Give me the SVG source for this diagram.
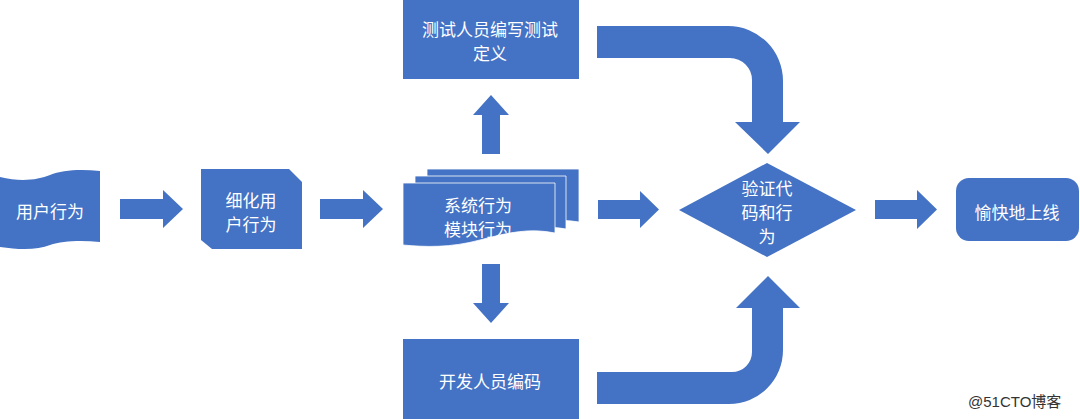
<svg xmlns="http://www.w3.org/2000/svg" width="1080" height="419" viewBox="0 0 1080 419">
<style>
.s{fill:#4472C4}
.l{fill:#4472C4;stroke:#ffffff;stroke-width:0.8}
.t{fill:#ffffff;font-family:"Noto Sans CJK SC","Noto Sans",sans-serif;font-size:17px;text-anchor:middle;dominant-baseline:central}
.w{fill:#333333;font-family:"Liberation Sans","Noto Sans CJK SC",sans-serif;font-size:15px}
</style>
<rect width="1080" height="419" fill="#ffffff"/>
<g id="connectors">
<path class="s" d="M120,199 L163,199 L163,190 L183,209 L163,228 L163,219 L120,219 Z"/>
<path class="s" d="M320,199 L363,199 L363,190 L383,209 L363,228 L363,219 L320,219 Z"/>
<path class="s" d="M598,200 L640,200 L640,191 L659,209.5 L640,228 L640,219 L598,219 Z"/>
<path class="s" d="M875,200 L917,200 L917,190 L937,209.5 L917,229 L917,219 L875,219 Z"/>
<path class="s" d="M482,154 L482,115 L473,115 L491,95 L509,115 L500,115 L500,154 Z"/>
<path class="s" d="M482,264 L500,264 L500,303 L509,303 L491,323 L473,303 L482,303 Z"/>
<path class="s" d="M597,26 L728,26 A55,55 0 0 1 783,81 L783,122 L800,122 L768,154 L735,122 L752,122 L752,80 A22,22 0 0 0 730,58 L597,58 Z"/>
<path class="s" d="M597,372 L732,372 A20,20 0 0 0 752,352 L752,308 L736,308 L768,276 L800,308 L783,308 L783,350 A54,54 0 0 1 729,404 L597,404 Z"/>
</g>
<g id="n1">
<path class="s" d="M0,177 C20,182 38,180 50,175 C62,170 80,169 100,171 L100,242 C80,240 62,241 50,245 C38,250 20,250 0,247 Z"/>
<text class="t" x="50" y="210">用户行为</text>
</g>
<g id="n2">
<path class="s" d="M201,169 L289,169 L302,182 L302,249 L212,249 L201,240 Z"/>
<text class="t" x="251" y="199">细化用</text>
<text class="t" x="251" y="223">户行为</text>
</g>
<g id="n3">
<path class="l" d="M427,169 L579,169 L579,222 C560,219 545,221 527,225 L427,225 Z"/>
<path class="l" d="M415,176 L566,176 L566,229 C550,226 535,228 515,232 L415,232 Z"/>
<path class="l" d="M403,183 L555,183 L555,233 C530,228 510,232 480,240 C450,248 425,247 403,245 Z"/>
<text class="t" x="478" y="204">系统行为</text>
<text class="t" x="478" y="228">模块行为</text>
</g>
<g id="n4">
<rect class="s" x="403" y="0" width="176" height="79"/>
<text class="t" x="490" y="28">测试人员编写测试</text>
<text class="t" x="490" y="52">定义</text>
</g>
<g id="n5">
<rect class="s" x="403" y="339" width="176" height="80"/>
<text class="t" x="490" y="380">开发人员编码</text>
</g>
<g id="n6">
<path class="s" d="M767,163 L856,210 L767,257 L679,210 Z"/>
<text class="t" x="767" y="187">验证代</text>
<text class="t" x="767" y="211">码和行</text>
<text class="t" x="767" y="235">为</text>
</g>
<g id="n7">
<rect class="s" x="956" y="178" width="123" height="63" rx="13"/>
<text class="t" x="1017" y="211">愉快地上线</text>
</g>
<text class="w" x="968" y="407">@51CTO博客</text>
</svg>
